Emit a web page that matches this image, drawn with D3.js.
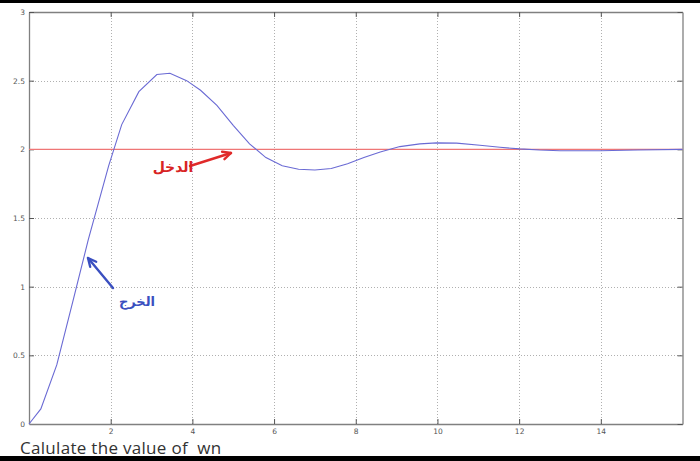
<!DOCTYPE html>
<html><head><meta charset="utf-8">
<script src="https://cdn.jsdelivr.net/npm/d3@7"></script>
<style>html,body{margin:0;padding:0;background:#fff;}svg{display:block;}</style>
</head><body>
<svg id="c" width="700" height="461"></svg>
<script>
const timeVals = [0,0.29,0.68,1.08,1.45,1.95,2.27,2.69,3.13,3.45,3.86,4.2,4.6,5.0,5.4,5.8,6.2,6.6,7.0,7.4,7.8,8.2,8.6,9.08,9.57,9.98,10.47,11.04,11.53,12.02,12.5,13.0,13.98,14.9,16];
const outputVals = [0,0.11,0.43,0.90,1.34,1.88,2.18,2.42,2.545,2.554,2.50,2.43,2.32,2.175,2.04,1.94,1.88,1.855,1.85,1.86,1.895,1.94,1.98,2.02,2.04,2.047,2.045,2.03,2.015,2.003,1.995,1.99,1.99,1.995,2.0];
const inputVal = 2;
const xTicks = [2,4,6,8,10,12,14];
const yTicks = [0,0.5,1,1.5,2,2.5,3];
const xDomain = [0,16];
const yDomain = [0,3];
const labelIn = "الدخل";
const labelOut = "الخرج";
const caption = "Calulate the value of  wn";

const svg = d3.select("#c");
const L=29,R=682.5,T=12,B=424;
const x = d3.scaleLinear().domain(xDomain).range([L,R]);
const y = d3.scaleLinear().domain(yDomain).range([B,T]);

// black bars
svg.append("rect").attr("x",0).attr("y",0).attr("width",700).attr("height",3).attr("fill","#000");
svg.append("rect").attr("x",0).attr("y",456).attr("width",700).attr("height",5).attr("fill","#000");

// grid
const g = svg.append("g");
g.selectAll(".gx").data(xTicks).join("line")
 .attr("x1",d=>Math.round(x(d))+0.5).attr("x2",d=>Math.round(x(d))+0.5).attr("y1",T).attr("y2",B)
 .attr("stroke","#b0b0b0").attr("stroke-dasharray","1,2").attr("stroke-width",1);
g.selectAll(".gy").data(yTicks.filter(d=>d>0&&d<3)).join("line")
 .attr("y1",d=>Math.round(y(d))+0.5).attr("y2",d=>Math.round(y(d))+0.5).attr("x1",L).attr("x2",R)
 .attr("stroke","#b0b0b0").attr("stroke-dasharray","1,2").attr("stroke-width",1);

const fmt = d3.format("~g");
const axB = d3.axisBottom(x).tickValues(xTicks).tickSizeInner(-5).tickSizeOuter(0).tickPadding(5).tickFormat(fmt);
const axT = d3.axisTop(x).tickValues(xTicks).tickSizeInner(-5).tickSizeOuter(0).tickFormat("");
const axL = d3.axisLeft(y).tickValues(yTicks).tickSizeInner(-5).tickSizeOuter(0).tickPadding(4).tickFormat(fmt);
const axR = d3.axisRight(y).tickValues(yTicks).tickSizeInner(-5).tickSizeOuter(0).tickFormat("");
function style(sel){
  sel.select(".domain").attr("stroke","#808080").attr("stroke-width",1.3);
  sel.selectAll(".tick line").attr("stroke","#555");
  sel.selectAll("text").attr("fill","#555").attr("font-size","7.5px").attr("font-family","DejaVu Sans, sans-serif");
}
const gB = svg.append("g").attr("transform",`translate(0,${B})`).call(axB); style(gB);
const gT = svg.append("g").attr("transform",`translate(0,${T})`).call(axT); style(gT);
const gL = svg.append("g").attr("transform",`translate(${L},0)`).call(axL); style(gL);
gL.selectAll(".tick").filter(d=>d===0).select("line").remove();
const gR = svg.append("g").attr("transform",`translate(${R},0)`).call(axR); style(gR);

svg.append("line").attr("x1",L).attr("x2",R).attr("y1",y(inputVal)).attr("y2",y(inputVal))
 .attr("stroke","#ef7676").attr("stroke-width",1.2);

const pts = timeVals.map((t,i)=>[t,outputVals[i]]);
svg.append("path").datum(pts)
 .attr("d",d3.line().x(d=>x(d[0])).y(d=>y(d[1])))
 .attr("fill","none").attr("stroke","#6a6ad4").attr("stroke-width",1.1);

function arrow(x1,y1,x2,y2,col){
  svg.append("line").attr("x1",x1).attr("y1",y1).attr("x2",x2).attr("y2",y2)
    .attr("stroke",col).attr("stroke-width",2.4).attr("stroke-linecap","round");
  const a=Math.atan2(y2-y1,x2-x1), h=9, s=0.45;
  const p=[[x2-h*Math.cos(a-s),y2-h*Math.sin(a-s)],[x2,y2],[x2-h*Math.cos(a+s),y2-h*Math.sin(a+s)]];
  svg.append("path").attr("d",d3.line()(p)).attr("fill","none").attr("stroke",col)
    .attr("stroke-width",2.4).attr("stroke-linecap","round").attr("stroke-linejoin","round");
}
arrow(190,166,231,153,"#e02a2a");
svg.append("text").attr("x",173).attr("y",172).attr("text-anchor","middle")
 .attr("font-family","DejaVu Sans, sans-serif").attr("font-weight","bold").attr("font-size","14px")
 .attr("fill","#d82424").text(labelIn);
arrow(113,288,88,258,"#3a4fc0");
svg.append("text").attr("x",137).attr("y",306).attr("text-anchor","middle")
 .attr("font-family","DejaVu Sans, sans-serif").attr("font-weight","bold").attr("font-size","13px")
 .attr("fill","#3a4fc0").text(labelOut);

svg.append("text").attr("x",20).attr("y",454).attr("font-family","Open Sans, sans-serif")
 .attr("font-size","17px").attr("letter-spacing","0.3px").attr("fill","#333").style("white-space","pre").text(caption);
</script>
</body></html>
